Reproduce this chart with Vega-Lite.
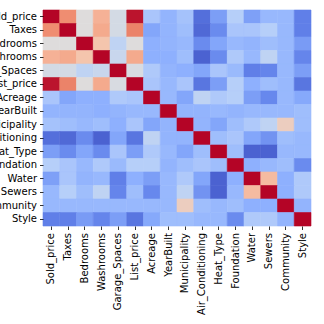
{
  "$schema": "https://vega.github.io/schema/vega-lite/v6.json",
  "width": 268,
  "height": 216,
  "autosize": "none",
  "padding": {"left": 43, "top": 10, "right": 13, "bottom": 98},
  "background": "white",
  "config": {"view": {"stroke": null}},
  "data": {"values": [
    {"r":"Sold_price","c":"Sold_price","v":1},{"r":"Sold_price","c":"Taxes","v":0.70},{"r":"Sold_price","c":"Bedrooms","v":0.33},{"r":"Sold_price","c":"Washrooms","v":0.57},{"r":"Sold_price","c":"Garage_Spaces","v":0.28},{"r":"Sold_price","c":"List_price","v":0.97},{"r":"Sold_price","c":"Acreage","v":0.10},{"r":"Sold_price","c":"YearBuilt","v":0.01},{"r":"Sold_price","c":"Municipality","v":0.08},{"r":"Sold_price","c":"Air_Conditioning","v":-0.24},{"r":"Sold_price","c":"Heat_Type","v":-0.08},{"r":"Sold_price","c":"Foundation","v":0.15},{"r":"Sold_price","c":"Water","v":-0.07},{"r":"Sold_price","c":"Sewers","v":0.03},{"r":"Sold_price","c":"Community","v":0.03},{"r":"Sold_price","c":"Style","v":-0.19},
    {"r":"Taxes","c":"Sold_price","v":0.70},{"r":"Taxes","c":"Taxes","v":1},{"r":"Taxes","c":"Bedrooms","v":0.33},{"r":"Taxes","c":"Washrooms","v":0.60},{"r":"Taxes","c":"Garage_Spaces","v":0.28},{"r":"Taxes","c":"List_price","v":0.73},{"r":"Taxes","c":"Acreage","v":-0.05},{"r":"Taxes","c":"YearBuilt","v":0.01},{"r":"Taxes","c":"Municipality","v":0.06},{"r":"Taxes","c":"Air_Conditioning","v":-0.26},{"r":"Taxes","c":"Heat_Type","v":-0.15},{"r":"Taxes","c":"Foundation","v":0.10},{"r":"Taxes","c":"Water","v":0.10},{"r":"Taxes","c":"Sewers","v":0.15},{"r":"Taxes","c":"Community","v":0.03},{"r":"Taxes","c":"Style","v":-0.19},
    {"r":"Bedrooms","c":"Sold_price","v":0.33},{"r":"Bedrooms","c":"Taxes","v":0.33},{"r":"Bedrooms","c":"Bedrooms","v":1},{"r":"Bedrooms","c":"Washrooms","v":0.49},{"r":"Bedrooms","c":"Garage_Spaces","v":0.19},{"r":"Bedrooms","c":"List_price","v":0.33},{"r":"Bedrooms","c":"Acreage","v":-0.01},{"r":"Bedrooms","c":"YearBuilt","v":0.01},{"r":"Bedrooms","c":"Municipality","v":0.03},{"r":"Bedrooms","c":"Air_Conditioning","v":-0.15},{"r":"Bedrooms","c":"Heat_Type","v":-0.05},{"r":"Bedrooms","c":"Foundation","v":0.03},{"r":"Bedrooms","c":"Water","v":0.01},{"r":"Bedrooms","c":"Sewers","v":0.06},{"r":"Bedrooms","c":"Community","v":0.03},{"r":"Bedrooms","c":"Style","v":-0.09},
    {"r":"Washrooms","c":"Sold_price","v":0.57},{"r":"Washrooms","c":"Taxes","v":0.60},{"r":"Washrooms","c":"Bedrooms","v":0.49},{"r":"Washrooms","c":"Washrooms","v":1},{"r":"Washrooms","c":"Garage_Spaces","v":0.23},{"r":"Washrooms","c":"List_price","v":0.60},{"r":"Washrooms","c":"Acreage","v":-0.01},{"r":"Washrooms","c":"YearBuilt","v":-0.01},{"r":"Washrooms","c":"Municipality","v":0.06},{"r":"Washrooms","c":"Air_Conditioning","v":-0.28},{"r":"Washrooms","c":"Heat_Type","v":-0.15},{"r":"Washrooms","c":"Foundation","v":0.12},{"r":"Washrooms","c":"Water","v":0.03},{"r":"Washrooms","c":"Sewers","v":0.19},{"r":"Washrooms","c":"Community","v":0.03},{"r":"Washrooms","c":"Style","v":-0.17},
    {"r":"Garage_Spaces","c":"Sold_price","v":0.28},{"r":"Garage_Spaces","c":"Taxes","v":0.28},{"r":"Garage_Spaces","c":"Bedrooms","v":0.19},{"r":"Garage_Spaces","c":"Washrooms","v":0.23},{"r":"Garage_Spaces","c":"Garage_Spaces","v":1},{"r":"Garage_Spaces","c":"List_price","v":0.30},{"r":"Garage_Spaces","c":"Acreage","v":0.12},{"r":"Garage_Spaces","c":"YearBuilt","v":0.01},{"r":"Garage_Spaces","c":"Municipality","v":-0.01},{"r":"Garage_Spaces","c":"Air_Conditioning","v":-0.05},{"r":"Garage_Spaces","c":"Heat_Type","v":0.10},{"r":"Garage_Spaces","c":"Foundation","v":0.04},{"r":"Garage_Spaces","c":"Water","v":-0.19},{"r":"Garage_Spaces","c":"Sewers","v":-0.17},{"r":"Garage_Spaces","c":"Community","v":0.03},{"r":"Garage_Spaces","c":"Style","v":-0.08},
    {"r":"List_price","c":"Sold_price","v":0.97},{"r":"List_price","c":"Taxes","v":0.73},{"r":"List_price","c":"Bedrooms","v":0.33},{"r":"List_price","c":"Washrooms","v":0.60},{"r":"List_price","c":"Garage_Spaces","v":0.30},{"r":"List_price","c":"List_price","v":1},{"r":"List_price","c":"Acreage","v":0.10},{"r":"List_price","c":"YearBuilt","v":0.03},{"r":"List_price","c":"Municipality","v":0.10},{"r":"List_price","c":"Air_Conditioning","v":-0.22},{"r":"List_price","c":"Heat_Type","v":-0.08},{"r":"List_price","c":"Foundation","v":0.15},{"r":"List_price","c":"Water","v":-0.01},{"r":"List_price","c":"Sewers","v":0.06},{"r":"List_price","c":"Community","v":0.03},{"r":"List_price","c":"Style","v":-0.22},
    {"r":"Acreage","c":"Sold_price","v":0.10},{"r":"Acreage","c":"Taxes","v":-0.05},{"r":"Acreage","c":"Bedrooms","v":-0.01},{"r":"Acreage","c":"Washrooms","v":-0.01},{"r":"Acreage","c":"Garage_Spaces","v":0.12},{"r":"Acreage","c":"List_price","v":0.10},{"r":"Acreage","c":"Acreage","v":1},{"r":"Acreage","c":"YearBuilt","v":0.03},{"r":"Acreage","c":"Municipality","v":-0.05},{"r":"Acreage","c":"Air_Conditioning","v":0.19},{"r":"Acreage","c":"Heat_Type","v":0.12},{"r":"Acreage","c":"Foundation","v":0.15},{"r":"Acreage","c":"Water","v":-0.08},{"r":"Acreage","c":"Sewers","v":-0.16},{"r":"Acreage","c":"Community","v":0.03},{"r":"Acreage","c":"Style","v":-0.04},
    {"r":"YearBuilt","c":"Sold_price","v":0.01},{"r":"YearBuilt","c":"Taxes","v":0.01},{"r":"YearBuilt","c":"Bedrooms","v":0.01},{"r":"YearBuilt","c":"Washrooms","v":-0.01},{"r":"YearBuilt","c":"Garage_Spaces","v":0.01},{"r":"YearBuilt","c":"List_price","v":0.03},{"r":"YearBuilt","c":"Acreage","v":0.03},{"r":"YearBuilt","c":"YearBuilt","v":1},{"r":"YearBuilt","c":"Municipality","v":0.01},{"r":"YearBuilt","c":"Air_Conditioning","v":0.01},{"r":"YearBuilt","c":"Heat_Type","v":0.03},{"r":"YearBuilt","c":"Foundation","v":0.01},{"r":"YearBuilt","c":"Water","v":0.03},{"r":"YearBuilt","c":"Sewers","v":0.03},{"r":"YearBuilt","c":"Community","v":0.03},{"r":"YearBuilt","c":"Style","v":0.06},
    {"r":"Municipality","c":"Sold_price","v":0.08},{"r":"Municipality","c":"Taxes","v":0.06},{"r":"Municipality","c":"Bedrooms","v":0.03},{"r":"Municipality","c":"Washrooms","v":0.06},{"r":"Municipality","c":"Garage_Spaces","v":-0.01},{"r":"Municipality","c":"List_price","v":0.10},{"r":"Municipality","c":"Acreage","v":-0.05},{"r":"Municipality","c":"YearBuilt","v":0.01},{"r":"Municipality","c":"Municipality","v":1},{"r":"Municipality","c":"Air_Conditioning","v":0.01},{"r":"Municipality","c":"Heat_Type","v":-0.05},{"r":"Municipality","c":"Foundation","v":0.06},{"r":"Municipality","c":"Water","v":0.12},{"r":"Municipality","c":"Sewers","v":0.19},{"r":"Municipality","c":"Community","v":0.43},{"r":"Municipality","c":"Style","v":0.06},
    {"r":"Air_Conditioning","c":"Sold_price","v":-0.24},{"r":"Air_Conditioning","c":"Taxes","v":-0.26},{"r":"Air_Conditioning","c":"Bedrooms","v":-0.15},{"r":"Air_Conditioning","c":"Washrooms","v":-0.28},{"r":"Air_Conditioning","c":"Garage_Spaces","v":-0.05},{"r":"Air_Conditioning","c":"List_price","v":-0.22},{"r":"Air_Conditioning","c":"Acreage","v":0.19},{"r":"Air_Conditioning","c":"YearBuilt","v":0.01},{"r":"Air_Conditioning","c":"Municipality","v":0.01},{"r":"Air_Conditioning","c":"Air_Conditioning","v":1},{"r":"Air_Conditioning","c":"Heat_Type","v":0.06},{"r":"Air_Conditioning","c":"Foundation","v":0.10},{"r":"Air_Conditioning","c":"Water","v":-0.05},{"r":"Air_Conditioning","c":"Sewers","v":-0.12},{"r":"Air_Conditioning","c":"Community","v":0.06},{"r":"Air_Conditioning","c":"Style","v":0.03},
    {"r":"Heat_Type","c":"Sold_price","v":-0.08},{"r":"Heat_Type","c":"Taxes","v":-0.15},{"r":"Heat_Type","c":"Bedrooms","v":-0.05},{"r":"Heat_Type","c":"Washrooms","v":-0.15},{"r":"Heat_Type","c":"Garage_Spaces","v":0.10},{"r":"Heat_Type","c":"List_price","v":-0.08},{"r":"Heat_Type","c":"Acreage","v":0.12},{"r":"Heat_Type","c":"YearBuilt","v":0.03},{"r":"Heat_Type","c":"Municipality","v":-0.05},{"r":"Heat_Type","c":"Air_Conditioning","v":0.06},{"r":"Heat_Type","c":"Heat_Type","v":1},{"r":"Heat_Type","c":"Foundation","v":0.06},{"r":"Heat_Type","c":"Water","v":-0.28},{"r":"Heat_Type","c":"Sewers","v":-0.28},{"r":"Heat_Type","c":"Community","v":0.03},{"r":"Heat_Type","c":"Style","v":0.03},
    {"r":"Foundation","c":"Sold_price","v":0.15},{"r":"Foundation","c":"Taxes","v":0.10},{"r":"Foundation","c":"Bedrooms","v":0.03},{"r":"Foundation","c":"Washrooms","v":0.12},{"r":"Foundation","c":"Garage_Spaces","v":0.04},{"r":"Foundation","c":"List_price","v":0.15},{"r":"Foundation","c":"Acreage","v":0.15},{"r":"Foundation","c":"YearBuilt","v":0.01},{"r":"Foundation","c":"Municipality","v":0.06},{"r":"Foundation","c":"Air_Conditioning","v":0.10},{"r":"Foundation","c":"Heat_Type","v":0.06},{"r":"Foundation","c":"Foundation","v":1},{"r":"Foundation","c":"Water","v":-0.01},{"r":"Foundation","c":"Sewers","v":0.03},{"r":"Foundation","c":"Community","v":0.06},{"r":"Foundation","c":"Style","v":-0.15},
    {"r":"Water","c":"Sold_price","v":-0.07},{"r":"Water","c":"Taxes","v":0.10},{"r":"Water","c":"Bedrooms","v":0.01},{"r":"Water","c":"Washrooms","v":0.03},{"r":"Water","c":"Garage_Spaces","v":-0.19},{"r":"Water","c":"List_price","v":-0.01},{"r":"Water","c":"Acreage","v":-0.08},{"r":"Water","c":"YearBuilt","v":0.03},{"r":"Water","c":"Municipality","v":0.12},{"r":"Water","c":"Air_Conditioning","v":-0.05},{"r":"Water","c":"Heat_Type","v":-0.28},{"r":"Water","c":"Foundation","v":-0.01},{"r":"Water","c":"Water","v":1},{"r":"Water","c":"Sewers","v":0.53},{"r":"Water","c":"Community","v":-0.01},{"r":"Water","c":"Style","v":0.12},
    {"r":"Sewers","c":"Sold_price","v":0.03},{"r":"Sewers","c":"Taxes","v":0.15},{"r":"Sewers","c":"Bedrooms","v":0.06},{"r":"Sewers","c":"Washrooms","v":0.19},{"r":"Sewers","c":"Garage_Spaces","v":-0.17},{"r":"Sewers","c":"List_price","v":0.06},{"r":"Sewers","c":"Acreage","v":-0.16},{"r":"Sewers","c":"YearBuilt","v":0.03},{"r":"Sewers","c":"Municipality","v":0.19},{"r":"Sewers","c":"Air_Conditioning","v":-0.12},{"r":"Sewers","c":"Heat_Type","v":-0.28},{"r":"Sewers","c":"Foundation","v":0.03},{"r":"Sewers","c":"Water","v":0.53},{"r":"Sewers","c":"Sewers","v":1},{"r":"Sewers","c":"Community","v":-0.01},{"r":"Sewers","c":"Style","v":0.12},
    {"r":"Community","c":"Sold_price","v":0.03},{"r":"Community","c":"Taxes","v":0.03},{"r":"Community","c":"Bedrooms","v":0.03},{"r":"Community","c":"Washrooms","v":0.03},{"r":"Community","c":"Garage_Spaces","v":0.03},{"r":"Community","c":"List_price","v":0.03},{"r":"Community","c":"Acreage","v":0.03},{"r":"Community","c":"YearBuilt","v":0.03},{"r":"Community","c":"Municipality","v":0.43},{"r":"Community","c":"Air_Conditioning","v":0.06},{"r":"Community","c":"Heat_Type","v":0.03},{"r":"Community","c":"Foundation","v":0.06},{"r":"Community","c":"Water","v":-0.01},{"r":"Community","c":"Sewers","v":-0.01},{"r":"Community","c":"Community","v":1},{"r":"Community","c":"Style","v":0.01},
    {"r":"Style","c":"Sold_price","v":-0.19},{"r":"Style","c":"Taxes","v":-0.19},{"r":"Style","c":"Bedrooms","v":-0.09},{"r":"Style","c":"Washrooms","v":-0.17},{"r":"Style","c":"Garage_Spaces","v":-0.08},{"r":"Style","c":"List_price","v":-0.22},{"r":"Style","c":"Acreage","v":-0.04},{"r":"Style","c":"YearBuilt","v":0.06},{"r":"Style","c":"Municipality","v":0.06},{"r":"Style","c":"Air_Conditioning","v":0.03},{"r":"Style","c":"Heat_Type","v":0.03},{"r":"Style","c":"Foundation","v":-0.15},{"r":"Style","c":"Water","v":0.12},{"r":"Style","c":"Sewers","v":0.12},{"r":"Style","c":"Community","v":0.01},{"r":"Style","c":"Style","v":1}
  ]},
  "mark": {"type": "rect", "strokeWidth": 0.6},
  "encoding": {
    "x": {
      "field": "c", "type": "nominal",
      "sort": ["Sold_price","Taxes","Bedrooms","Washrooms","Garage_Spaces","List_price","Acreage","YearBuilt","Municipality","Air_Conditioning","Heat_Type","Foundation","Water","Sewers","Community","Style"],
      "scale": {"paddingInner": 0, "paddingOuter": 0},
      "axis": {"title": null, "domain": false, "labelAngle": 270, "labelAlign": "right", "labelBaseline": "middle", "labelFont": "DejaVu Sans", "labelFontSize": 10, "labelColor": "black", "labelPadding": 3, "tickSize": 3.5, "tickColor": "black", "tickWidth": 0.8, "labelOverlap": false}
    },
    "y": {
      "field": "r", "type": "nominal",
      "sort": ["Sold_price","Taxes","Bedrooms","Washrooms","Garage_Spaces","List_price","Acreage","YearBuilt","Municipality","Air_Conditioning","Heat_Type","Foundation","Water","Sewers","Community","Style"],
      "scale": {"paddingInner": 0, "paddingOuter": 0},
      "axis": {"title": null, "domain": false, "labelFont": "DejaVu Sans", "labelFontSize": 10, "labelColor": "black", "labelPadding": 3, "tickSize": 3.5, "tickColor": "black", "tickWidth": 0.8, "labelOverlap": false}
    },
    "color": {
      "field": "v", "type": "quantitative", "legend": null,
      "scale": {
        "domain": [-0.35, -0.18125, -0.0125, 0.15625, 0.325, 0.49375, 0.6625, 0.83125, 1],
        "range": ["#3b4cc0", "#6282ea", "#8db0fe", "#b8d0f9", "#dddddd", "#f5c4ac", "#f49a7b", "#de604d", "#b40426"],
        "interpolate": "rgb"
      }
    },
    "stroke": {
      "field": "v", "type": "quantitative", "legend": null,
      "scale": {
        "domain": [-0.35, -0.18125, -0.0125, 0.15625, 0.325, 0.49375, 0.6625, 0.83125, 1],
        "range": ["#3b4cc0", "#6282ea", "#8db0fe", "#b8d0f9", "#dddddd", "#f5c4ac", "#f49a7b", "#de604d", "#b40426"],
        "interpolate": "rgb"
      }
    }
  }
}
